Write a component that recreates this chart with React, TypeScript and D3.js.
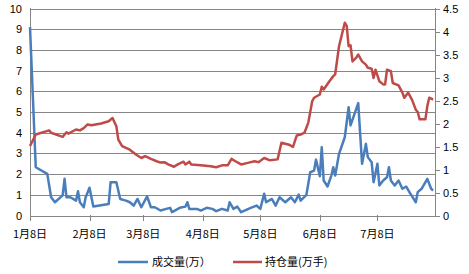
import React from "react";
import * as d3 from "d3";

// x positions are days after 2013-01-08
const startDate = new Date(2013, 0, 8);
const endDate = new Date(2013, 7, 7);

const volumeDays = [0,3,9,11,13,17,18,19,21,24,25,26,28,29,31,33,41,42,45,47,50,52,54,56,58,61,63,65,68,71,73,74,78,81,82,83,87,89,92,95,97,100,103,104,106,108,110,115,118,120,122,123,126,128,130,133,136,138,140,141,144,146,148,149,151,152,153,155,157,158,159,161,164,166,167,171,173,175,176,178,179,181,182,184,186,187,188,190,192,194,196,198,201,202,204,207,209,210];
const volumeValues = [9.1,2.33,2.01,0.88,0.64,0.97,1.77,0.88,0.88,0.72,1.17,0.64,0.4,0.88,1.34,0.43,0.56,1.61,1.61,0.8,0.72,0.64,0.48,0.8,0.4,0.92,0.4,0.4,0.24,0.32,0.37,0.16,0.37,0.43,0.64,0.32,0.32,0.24,0.37,0.32,0.21,0.32,0.24,0.64,0.32,0.43,0.16,0.37,0.48,0.32,1.05,0.64,0.8,0.48,0.88,0.64,0.88,0.64,1.01,0.72,1.0,2.09,2.17,2.7,1.9,3.3,1.69,1.4,1.93,2.33,1.93,2.98,3.78,5.23,4.35,5.43,2.5,3.46,2.82,2.57,1.61,2.5,1.45,1.69,1.85,2.33,1.69,1.45,1.69,1.29,1.4,1.08,0.64,1.13,1.29,1.77,1.29,1.21];

const positionDays = [0,3,10,11,17,19,20,24,26,28,30,32,37,41,43,45,46,48,52,55,58,60,63,66,68,70,72,75,77,80,81,83,84,89,94,97,100,103,105,107,110,114,117,119,122,125,129,131,135,137,139,141,143,145,147,148,151,152,153,156,158,159,161,164,165,166,167,168,170,171,173,175,176,178,179,180,182,184,185,186,188,189,192,194,195,197,199,201,202,203,206,207,208,210];
const positionValues = [1.51,1.76,1.85,1.8,1.71,1.81,1.78,1.87,1.85,1.9,1.98,1.96,2.0,2.05,2.12,1.94,1.65,1.51,1.43,1.33,1.25,1.29,1.23,1.18,1.15,1.16,1.11,1.06,1.11,1.17,1.11,1.17,1.11,1.09,1.07,1.05,1.09,1.09,1.23,1.18,1.11,1.15,1.18,1.16,1.25,1.2,1.22,1.58,1.54,1.49,1.74,1.76,1.8,2.02,2.48,2.56,2.63,2.8,2.74,2.92,3.03,3.07,3.68,4.19,4.12,3.68,3.7,3.35,3.43,3.5,3.35,3.28,3.21,3.19,2.99,3.17,2.92,2.85,2.85,3.17,3.14,2.88,2.83,2.67,2.56,2.67,2.52,2.3,2.25,2.09,2.09,2.38,2.56,2.52];

const leftTicks = [0,1,2,3,4,5,6,7,8,9,10];
const rightTicks = [0,0.5,1,1.5,2,2.5,3,3.5,4,4.5];
const monthTickLabels = ["1月8日","2月8日","3月8日","4月8日","5月8日","6月8日","7月8日"];
const seriesNames = ["成交量(万）", "持仓量(万手)"];
const seriesColors = ["#4A7EBB", "#BE4B48"];

export default function App() {
  const W = 469, H = 274;
  const x = d3.scaleTime().domain([startDate, endDate]).range([30, 435]);
  const yL = d3.scaleLinear().domain([0, 10]).range([215.5, 8.5]);
  const yR = d3.scaleLinear().domain([0, 4.5]).range([215.5, 8.5]);
  const monthTicks = d3.range(7).map((i) => new Date(2013, i, 8));
  const toDate = (n: number) => d3.timeDay.offset(startDate, n);

  const volLine = d3.line<number>()
    .x((_, i) => x(toDate(volumeDays[i])))
    .y((d) => yL(d));
  const posLine = d3.line<number>()
    .x((_, i) => x(toDate(positionDays[i])))
    .y((d) => yR(d));

  const grid = "#868686";
  const numFont = "'Liberation Sans', Arial, sans-serif";
  const cjkFont = "'Noto Sans CJK SC', sans-serif";

  return (
    <svg width={W} height={H} style={{ position: "absolute", left: 0, top: 0, background: "#fff" }}>
      <rect width={W} height={H} fill="#fff" />
      {leftTicks.map((t) => (
        <line key={"g" + t} x1={30} x2={435} y1={Math.round(yL(t)) + 0.5} y2={Math.round(yL(t)) + 0.5} stroke={grid} strokeWidth={1} />
      ))}
      <line x1={30.5} x2={30.5} y1={8} y2={216} stroke={grid} />
      <line x1={435.5} x2={435.5} y1={8} y2={216} stroke={grid} />
      {rightTicks.map((t) => (
        <line key={"rt" + t} x1={435} x2={440} y1={Math.round(yR(t)) + 0.5} y2={Math.round(yR(t)) + 0.5} stroke={grid} />
      ))}
      {monthTicks.map((d, i) => (
        <line key={"xt" + i} x1={Math.round(x(d)) + 0.5} x2={Math.round(x(d)) + 0.5} y1={215} y2={221} stroke={grid} />
      ))}
      {leftTicks.map((t) => (
        <text key={"lt" + t} x={22} y={yL(t) + 4} textAnchor="end" fontFamily={numFont} fontSize={11} fill="#000">{t}</text>
      ))}
      {rightTicks.map((t) => (
        <text key={"rl" + t} x={443} y={yR(t) + 4} textAnchor="start" fontFamily={numFont} fontSize={11} fill="#000">{t}</text>
      ))}
      {monthTicks.map((d, i) => (
        <text key={"xl" + i} x={x(d)} y={238} textAnchor="middle" fontFamily={cjkFont} fontSize={11} fill="#000">{monthTickLabels[i]}</text>
      ))}
      <path d={volLine(volumeValues) || ""} fill="none" stroke={seriesColors[0]} strokeWidth={2.5} strokeLinejoin="round" />
      <path d={posLine(positionValues) || ""} fill="none" stroke={seriesColors[1]} strokeWidth={2.5} strokeLinejoin="round" />
      <line x1={118} x2={148} y1={262} y2={262} stroke={seriesColors[0]} strokeWidth={2.5} />
      <text x={152} y={266} fontFamily={cjkFont} fontSize={11} fill="#000">{seriesNames[0]}</text>
      <line x1={233} x2={262} y1={262} y2={262} stroke={seriesColors[1]} strokeWidth={2.5} />
      <text x={265} y={266} fontFamily={cjkFont} fontSize={11} fill="#000">{seriesNames[1]}</text>
    </svg>
  );
}
